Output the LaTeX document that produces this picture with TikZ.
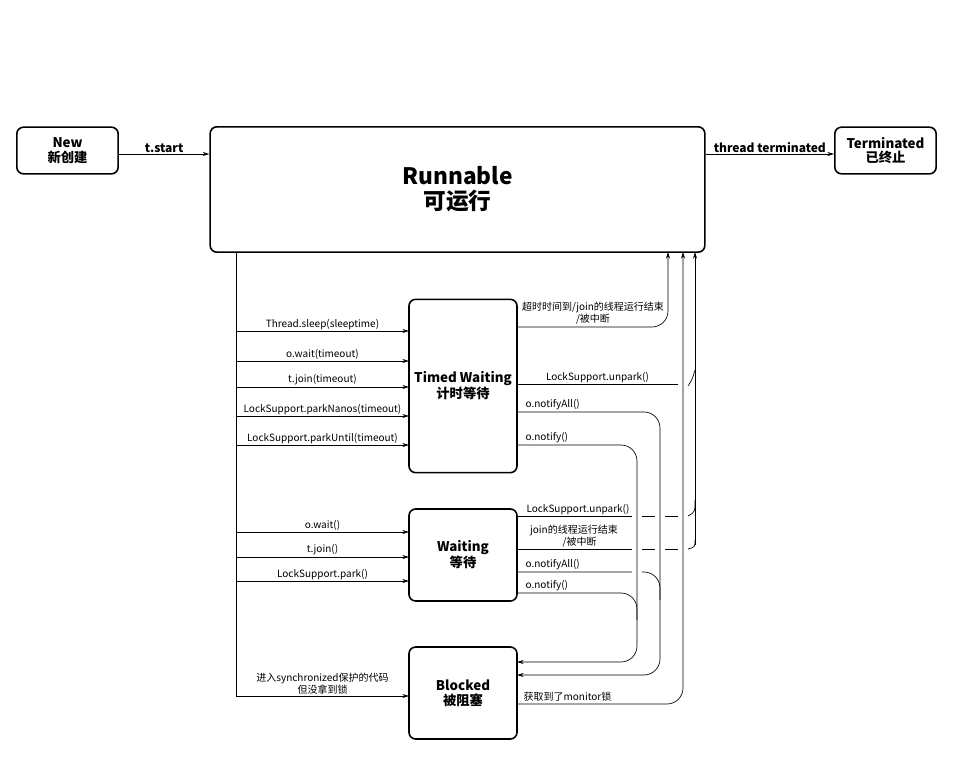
\documentclass[tikz,border=0pt]{standalone}
\usepackage{fontspec}
\setmainfont{Noto Sans CJK SC}
\usetikzlibrary{arrows.meta}
\begin{document}
\begin{tikzpicture}[x=0.75pt,y=-0.75pt,
  box/.style={draw,line width=1.2pt,rounded corners=5pt,inner sep=0pt,align=center,font=\fontsize{10}{11}\selectfont\bfseries},
  ln/.style={draw,line width=0.5pt},
  arr/.style={ln,-{Stealth[length=5pt,width=3pt]}},
  lb/.style={font=\fontsize{7.5}{9}\selectfont,inner sep=1pt,align=center}]
\useasboundingbox (0,0) rectangle (960,757);
\node[box,minimum width=76pt,minimum height=35pt] (new) at (67.5,150.5) {New\\新创建};
\node[box,minimum width=371pt,minimum height=94pt,font=\fontsize{17}{19}\selectfont\bfseries] (run) at (457.5,189.5) {Runnable\\可运行};
\node[box,minimum width=76pt,minimum height=35pt] (term) at (885.5,150.5) {Terminated\\已终止};
\node[box,minimum width=81pt,minimum height=130pt] (tw) at (463,386) {Timed Waiting\\计时等待};
\node[box,minimum width=81pt,minimum height=69pt] (wt) at (463,555) {Waiting\\等待};
\node[box,minimum width=81pt,minimum height=69pt] (bl) at (463,693) {Blocked\\被阻塞};
\coordinate (c1) at (0,154);
\draw[arr] (new.east|-c1) -- node[lb,above,font=\fontsize{9}{10}\selectfont\bfseries]{t.start} (run.west|-c1);
\draw[arr] (run.east|-c1) -- node[lb,above,font=\fontsize{9}{10}\selectfont\bfseries]{thread terminated} (term.west|-c1);
% left trunk
\coordinate (top) at (236,252);
\draw[ln] (top) -- (236,696);
\foreach \y/\t in {331/Thread.sleep(sleeptime),361/o.wait(timeout),387/t.join(timeout),416/LockSupport.parkNanos(timeout),445/LockSupport.parkUntil(timeout)}
  \draw[arr] (236,\y) -- node[lb,above,pos=0.5]{\t} (409,\y);
\foreach \y/\t in {532/o.wait(),557/t.join(),581/LockSupport.park()}
  \draw[arr] (236,\y) -- node[lb,above,pos=0.5]{\t} (409,\y);
\draw[arr] (236,696) -- node[lb,above]{进入synchronized保护的代码\\但没拿到锁} (409,696);
% timed -> runnable
\draw[arr,rounded corners=12pt] (517,327) -- (668,327) -- (668,252);
\node[lb,anchor=south] at (593,326) {超时时间到/join的线程运行结束\\/被中断};
% unpark / join -> runnable via x=695
\draw[arr] (695,545) -- (695,252);
\draw[ln] (517,384) -- node[lb,above,pos=0.5]{LockSupport.unpark()} (678,384);
\draw[ln] (688,386) .. controls (692,380) .. (695,370);
\draw[ln] (517,516) -- (632,516) (642,516) -- (655,516) (665,516) -- (678,516);
\draw[ln] (688,516) .. controls (695,512) .. (695,500);
\node[lb,anchor=south] at (578,516) {LockSupport.unpark()};
\draw[ln] (517,549) -- (632,549) (642,549) -- (655,549) (665,549) -- (678,549);
\draw[ln] (688,549) .. controls (695,547) .. (695,540);
\node[lb,anchor=south] at (574,549) {join的线程运行结束\\\ \ \ \ \ /被中断};
% blocked -> runnable
\draw[arr,rounded corners=12pt] (517,704) -- (683,704) -- (683,252);
\node[lb,anchor=south west] at (522,703) {获取到了monitor锁};
% notifyAll -> blocked
\draw[arr,rounded corners=12pt] (517,412) -- (660,412) -- (660,675) -- (517,675);
\node[lb,anchor=south west] at (524,411) {o.notifyAll()};
\draw[ln,rounded corners=12pt] (517,572) -- (632,572) (642,572) -- (660,572) -- (660,600);
\node[lb,anchor=south west] at (524,571) {o.notifyAll()};
% notify -> blocked
\draw[arr,rounded corners=12pt] (517,445) -- (637,445) -- (637,662) -- (517,662);
\node[lb,anchor=south west] at (524,444) {o.notify()};
\draw[ln,rounded corners=12pt] (517,593) -- (637,593) -- (637,620);
\node[lb,anchor=south west] at (524,592) {o.notify()};
\end{tikzpicture}
\end{document}
